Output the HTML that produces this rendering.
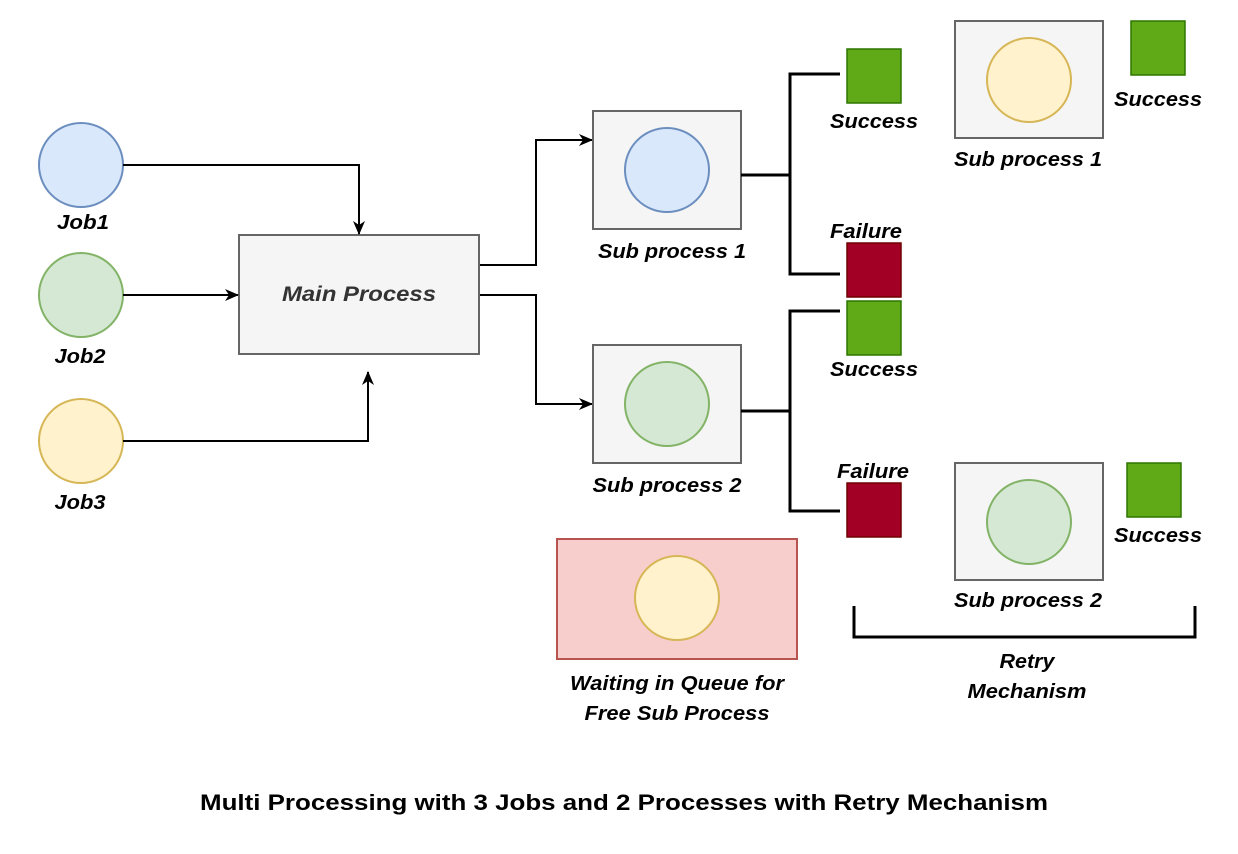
<!DOCTYPE html>
<html><head><meta charset="utf-8"><style>
html,body{margin:0;padding:0;background:#fff;}
svg{display:block;}
text{font-family:"Liberation Sans",Arial,sans-serif;font-weight:bold;font-style:italic;font-size:20px;fill:#000;text-anchor:middle;}
</style></head><body>
<svg width="1238" height="854" viewBox="0 0 1238 854" xmlns="http://www.w3.org/2000/svg">
<defs>
<marker id="a" markerWidth="14" markerHeight="14" refX="13" refY="7" orient="auto" markerUnits="userSpaceOnUse">
<path d="M0,1 L14,7 L0,13 L4,7 Z" fill="#000"/>
</marker>
</defs>
<rect width="1238" height="854" fill="#fff"/>
<circle cx="81" cy="165" r="42" fill="#dae8fc" stroke="#6c8ebf" stroke-width="2"/>
<circle cx="81" cy="295" r="42" fill="#d5e8d4" stroke="#82b366" stroke-width="2"/>
<circle cx="81" cy="441" r="42" fill="#fff2cc" stroke="#d6b656" stroke-width="2"/>
<text x="83" y="229" textLength="52" lengthAdjust="spacingAndGlyphs">Job1</text>
<text x="80" y="363" textLength="51" lengthAdjust="spacingAndGlyphs">Job2</text>
<text x="80" y="509" textLength="51" lengthAdjust="spacingAndGlyphs">Job3</text>
<rect x="239" y="235" width="240" height="119" fill="#f5f5f5" stroke="#666" stroke-width="2"/>
<text x="359" y="301" style="font-size:21px;fill:#333" textLength="154" lengthAdjust="spacingAndGlyphs">Main Process</text>
<g fill="none" stroke="#000" stroke-width="2">
<path d="M123,165 H359 V234" marker-end="url(#a)"/>
<path d="M123,295 H238" marker-end="url(#a)"/>
<path d="M123,441 H368 V372" marker-end="url(#a)"/>
<path d="M480,265 H536 V140 H592" marker-end="url(#a)"/>
<path d="M480,295 H536 V404 H592" marker-end="url(#a)"/>
</g>
<rect x="593" y="111" width="148" height="118" fill="#f5f5f5" stroke="#666" stroke-width="2"/>
<circle cx="667" cy="170" r="42" fill="#dae8fc" stroke="#6c8ebf" stroke-width="2"/>
<text x="672" y="258" textLength="148" lengthAdjust="spacingAndGlyphs">Sub process 1</text>
<rect x="593" y="345" width="148" height="118" fill="#f5f5f5" stroke="#666" stroke-width="2"/>
<circle cx="667" cy="404" r="42" fill="#d5e8d4" stroke="#82b366" stroke-width="2"/>
<text x="667" y="492" textLength="149" lengthAdjust="spacingAndGlyphs">Sub process 2</text>
<g fill="none" stroke="#000" stroke-width="3">
<path d="M741,175 H790"/><path d="M840,74 H790 V274 H840"/>
<path d="M741,411 H790"/><path d="M840,311 H790 V511 H840"/>
<path d="M854,606 V637 H1195 V606"/>
</g>
<rect x="847" y="49" width="54" height="54" fill="#60a917" stroke="#2d7600" stroke-width="1.5"/>
<rect x="847" y="243" width="54" height="54" fill="#a20025" stroke="#6f0000" stroke-width="1.5"/>
<rect x="847" y="301" width="54" height="54" fill="#60a917" stroke="#2d7600" stroke-width="1.5"/>
<rect x="847" y="483" width="54" height="54" fill="#a20025" stroke="#6f0000" stroke-width="1.5"/>
<text x="874" y="128" textLength="88" lengthAdjust="spacingAndGlyphs">Success</text>
<text x="866" y="238" textLength="72" lengthAdjust="spacingAndGlyphs">Failure</text>
<text x="874" y="376" textLength="88" lengthAdjust="spacingAndGlyphs">Success</text>
<text x="873" y="478" textLength="72" lengthAdjust="spacingAndGlyphs">Failure</text>
<rect x="955" y="21" width="148" height="117" fill="#f5f5f5" stroke="#666" stroke-width="2"/>
<circle cx="1029" cy="80" r="42" fill="#fff2cc" stroke="#d6b656" stroke-width="2"/>
<text x="1028" y="166" textLength="148" lengthAdjust="spacingAndGlyphs">Sub process 1</text>
<rect x="1131" y="21" width="54" height="54" fill="#60a917" stroke="#2d7600" stroke-width="1.5"/>
<text x="1158" y="106" textLength="88" lengthAdjust="spacingAndGlyphs">Success</text>
<rect x="955" y="463" width="148" height="117" fill="#f5f5f5" stroke="#666" stroke-width="2"/>
<circle cx="1029" cy="522" r="42" fill="#d5e8d4" stroke="#82b366" stroke-width="2"/>
<text x="1028" y="607" textLength="148" lengthAdjust="spacingAndGlyphs">Sub process 2</text>
<rect x="1127" y="463" width="54" height="54" fill="#60a917" stroke="#2d7600" stroke-width="1.5"/>
<text x="1158" y="542" textLength="88" lengthAdjust="spacingAndGlyphs">Success</text>
<text x="1027" y="668" textLength="55" lengthAdjust="spacingAndGlyphs">Retry</text>
<text x="1027" y="698" textLength="119" lengthAdjust="spacingAndGlyphs">Mechanism</text>
<rect x="557" y="539" width="240" height="120" fill="#f8cecc" stroke="#b85450" stroke-width="2"/>
<circle cx="677" cy="598" r="42" fill="#fff2cc" stroke="#d6b656" stroke-width="2"/>
<text x="677" y="690" textLength="214" lengthAdjust="spacingAndGlyphs">Waiting in Queue for</text>
<text x="677" y="720" textLength="185" lengthAdjust="spacingAndGlyphs">Free Sub Process</text>
<text x="624" y="810" style="font-style:normal;font-size:22px" textLength="848" lengthAdjust="spacingAndGlyphs">Multi Processing with 3 Jobs and 2 Processes with Retry Mechanism</text>
</svg>
</body></html>
